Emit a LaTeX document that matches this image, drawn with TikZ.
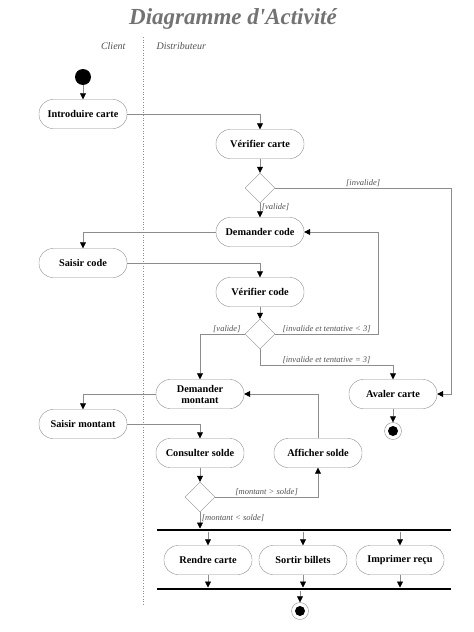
\documentclass[tikz,border=0pt]{standalone}
\usepackage{fontspec}
\setmainfont{Liberation Serif}
\newfontfamily\titlefont{Liberation Serif}
\usepackage{tikz}
\usetikzlibrary{arrows.meta,shapes.geometric,positioning}
\usepackage{xcolor}
\definecolor{umlgray}{RGB}{140,140,140}
\definecolor{titlegray}{RGB}{115,115,115}
\definecolor{lanegray}{RGB}{80,80,80}
\tikzstyle{activity} = [draw=umlgray, rectangle, rounded corners=14pt, minimum width=88pt, minimum height=29pt, align=center, font=\fontsize{10.3}{11}\selectfont\bfseries, inner sep=1pt]
\tikzstyle{decision} = [draw=umlgray, diamond, minimum size=30pt, inner sep=0pt]
\tikzstyle{startnode} = [circle, fill=black, minimum size=16pt, inner sep=0pt]
\tikzstyle{endnode} = [circle, draw=umlgray, minimum size=17pt, inner sep=0pt, path picture={\fill[black] (path picture bounding box.center) circle (5pt);}]
\tikzstyle{bar} = [rectangle, fill=black, minimum width=294pt, minimum height=2.6pt, inner sep=0pt]
\tikzstyle{guard} = [font=\fontsize{8.5}{9}\selectfont\itshape, color=lanegray, inner sep=1.5pt]
\tikzstyle{lane} = [font=\fontsize{10}{11}\selectfont\itshape, color=lanegray]
\tikzstyle{arrow} = [draw=umlgray, line width=0.7pt, -{Triangle[length=6pt,width=6pt,black]}]

\begin{document}
\begin{tikzpicture}[x=1pt, y=-1pt]
\useasboundingbox (0,0) rectangle (474,632);
% Title and lanes
\node[font=\titlefont\fontsize{23}{26}\selectfont\bfseries\itshape, color=titlegray] (title) at (233,19) {Diagramme d'Activité};
\node[lane, left] (client) at (129,46) {Client};
\node[lane, right] (distrib) at (153,46) {Distributeur};
\draw[umlgray, dotted, line width=0.6pt] (143,37) -- (143,605);

% Nodes
\node[startnode] (start) at (83,77) {};
\node[activity] (intro) at (83,114) {Introduire carte};
\node[activity] (verifcarte) at (260,144) {V\'erifier carte};
\node[decision] (dec1) at (260,188) {};
\node[activity] (demcode) at (260,232) {Demander code};
\node[activity] (saisircode) at (83,263) {Saisir code};
\node[activity] (verifcode) at (260,292) {V\'erifier code};
\node[decision] (dec2) at (260,334) {};
\node[activity] (demmontant) at (200,394) {Demander\\montant};
\node[activity] (avaler) at (393,394) {Avaler carte};
\node[endnode] (fin1) at (393,431) {};
\node[activity] (saisirmontant) at (83,424) {Saisir montant};
\node[activity] (consulter) at (200,453) {Consulter solde};
\node[activity] (afficher) at (318,453) {Afficher solde};
\node[decision] (dec3) at (200,497) {};
\node[bar] (fork) at (304,530) {};
\node[activity] (rendre) at (208,560) {Rendre carte};
\node[activity] (sortir) at (303,560) {Sortir billets};
\node[activity] (imprimer) at (400,560) {Imprimer re\c{c}u};
\node[bar] (join) at (304,589) {};
\node[endnode] (fin2) at (300,611) {};

\coordinate (c1) at (451,188);
\coordinate (c2) at (378,334);
\coordinate (c3) at (260,365);

% Connectors
\draw[arrow] (start) -- (intro);
\draw[arrow] (intro.east) -| (verifcarte.north);
\draw[arrow] (verifcarte) -- (dec1);
\draw[arrow] (dec1) -- node[guard, right, pos=0.3] {[valide]} (demcode);
\draw[arrow] (dec1.east) -- node[guard, above] {[invalide]} (c1) |- (avaler.east);
\draw[arrow] (demcode.west) -| (saisircode.north);
\draw[arrow] (saisircode.east) -| (verifcode.north);
\draw[arrow] (verifcode) -- (dec2);
\draw[arrow] (dec2.west) -| node[guard, above, pos=0.2] {[valide]} (demmontant.north);
\draw[arrow] (dec2.east) -- node[guard, above] {[invalide et tentative < 3]} (c2) |- (demcode.east);
\draw[arrow] (dec2.south) -- (c3) -| node[guard, above, pos=0.25] {[invalide et tentative = 3]} (avaler.north);
\draw[arrow] (avaler) -- (fin1);
\draw[arrow] (demmontant.west) -| (saisirmontant.north);
\draw[arrow] (saisirmontant.east) -| (consulter.north);
\draw[arrow] (consulter) -- (dec3);
\draw[arrow] (afficher.north) |- (demmontant.east);
\draw[arrow] (dec3.east) -| node[guard, above, pos=0.25] {[montant > solde]} (afficher.south);
\draw[arrow] (dec3.south) -- node[guard, right, pos=0.35] {[montant < solde]} (dec3.south |- fork.north);
\draw[arrow] (rendre |- fork.south) -- (rendre.north);
\draw[arrow] (sortir |- fork.south) -- (sortir.north);
\draw[arrow] (imprimer |- fork.south) -- (imprimer.north);
\draw[arrow] (rendre.south) -- (rendre.south |- join.north);
\draw[arrow] (sortir.south) -- (sortir.south |- join.north);
\draw[arrow] (imprimer.south) -- (imprimer.south |- join.north);
\draw[arrow] (fin2 |- join.south) -- (fin2);
\end{tikzpicture}
\end{document}
